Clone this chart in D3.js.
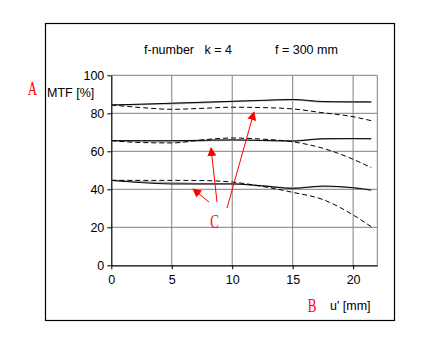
<!DOCTYPE html>
<html><head><meta charset="utf-8">
<script src="https://cdn.jsdelivr.net/npm/d3@7/dist/d3.min.js"></script>
<style>body{margin:0;background:#fff}svg{display:block}</style>
</head><body><svg id="c" width="428" height="348"></svg>
<script>
const xs = [0, 2.5, 5, 7.5, 10, 12.5, 15, 17.5, 20, 21.5];
const topSolidBlack = [84.4, 84.8, 85.3, 85.8, 86.3, 86.8, 87.3, 86.2, 86.0, 86.0];
const topSolidGray  = [84.2, 84.6, 85.1, 85.6, 86.2, 86.7, 87.0, 86.0, 85.9, 85.9];
const topDashed     = [84.4, 83.0, 82.1, 82.6, 83.2, 83.0, 82.3, 80.3, 78.2, 76.1];
const midSolidBlack = [65.6, 65.6, 65.6, 65.8, 66.0, 65.7, 65.4, 66.6, 66.7, 66.6];
const midSolidGray  = [65.5, 65.2, 65.0, 65.5, 65.9, 65.7, 65.5, 66.5, 66.6, 66.6];
const midDashed     = [65.6, 64.6, 64.4, 66.0, 67.0, 66.4, 65.0, 61.6, 55.8, 51.4];
const lowSolidBlack = [44.7, 43.5, 42.8, 42.8, 42.8, 41.8, 40.5, 41.7, 40.8, 39.6];
const lowSolidGray  = [44.7, 44.0, 43.4, 43.0, 42.9, 41.8, 40.6, 41.5, 40.8, 39.6];
const lowDashed     = [44.7, 44.7, 44.7, 44.6, 43.8, 41.5, 38.4, 34.6, 26.5, 20.3];
const xTicks = [0, 5, 10, 15, 20];
const yTicks = [0, 20, 40, 60, 80, 100];

const svg = d3.select("#c");
const L = 111.3, R = 377.3, T = 75.3, B = 265.3;
const x = d3.scaleLinear().domain([0, 22]).range([L, R]);
const y = d3.scaleLinear().domain([0, 100]).range([B, T]);
const sans = '"Liberation Sans",Arial,sans-serif';

// outer frame
svg.append("rect").attr("x", 45.5).attr("y", 23.5).attr("width", 349).attr("height", 297)
  .attr("fill", "none").attr("stroke", "#000").attr("stroke-width", 1.2);

// grid
const g = svg.append("g");
g.selectAll(".gx").data(xTicks.filter(d => d > 0)).join("line")
  .attr("x1", d => x(d)).attr("x2", d => x(d)).attr("y1", T).attr("y2", B)
  .attr("stroke", "#808080").attr("stroke-width", 1);
g.selectAll(".gy").data(yTicks.filter(d => d > 0)).join("line")
  .attr("x1", L).attr("x2", R).attr("y1", d => y(d)).attr("y2", d => y(d))
  .attr("stroke", "#808080").attr("stroke-width", 1);
g.append("line").attr("x1", R).attr("x2", R).attr("y1", T).attr("y2", B)
  .attr("stroke", "#808080");

// axes
const ax = svg.append("g").attr("transform", `translate(0,${B})`)
  .call(d3.axisBottom(x).tickValues(xTicks).tickSize(4).tickPadding(6).tickSizeOuter(0));
const ay = svg.append("g").attr("transform", `translate(${L},0)`)
  .call(d3.axisLeft(y).tickValues(yTicks).tickSize(4).tickPadding(3).tickSizeOuter(0));
[ax, ay].forEach(a => {
  a.select(".domain").attr("stroke", "#000").attr("stroke-width", 1.2);
  a.selectAll(".tick line").attr("stroke", "#000");
  a.selectAll("text").attr("font-size", 12.5).attr("fill", "#000").attr("font-family", sans);
});

// lines
const line = d3.line().x((d, i) => x(xs[i])).y(d => y(d)).curve(d3.curveMonotoneX);
const series = [
  [topSolidGray, "#a8a8a8", 1.6, null],
  [midSolidGray, "#a8a8a8", 1.6, null],
  [lowSolidGray, "#a8a8a8", 1.6, null],
  [topSolidBlack, "#000", 1, null],
  [midSolidBlack, "#000", 1, null],
  [lowSolidBlack, "#000", 1, null],
  [topDashed, "#000", 1, "5,3"],
  [midDashed, "#000", 1, "5,3"],
  [lowDashed, "#000", 1, "5,3"],
];
series.forEach(([d, c, w, da]) => {
  svg.append("path").attr("d", line(d)).attr("fill", "none")
    .attr("stroke", c).attr("stroke-width", w).attr("stroke-dasharray", da);
});

// texts
const txt = (s, tx, ty, o = {}) => svg.append("text").text(s).attr("x", tx).attr("y", ty)
  .attr("font-size", o.size || 12.5).attr("fill", o.fill || "#000")
  .attr("text-anchor", o.anchor || "start")
  .attr("font-family", o.family || sans);
txt("f-number\u00a0\u00a0\u00a0k = 4", 144, 54);
txt("f = 300 mm", 275, 54);
txt("MTF [%]", 47, 97);
txt("u' [mm]", 330, 310);
const serif = '"Liberation Serif","DejaVu Serif",serif';
const redLetter = (s, cx, by) => svg.append("text").text(s)
  .attr("transform", `translate(${cx},${by}) scale(0.72,1)`)
  .attr("text-anchor", "middle").attr("font-size", 18).attr("fill", "#f00")
  .attr("font-family", serif);
redLetter("A", 32.5, 95);
redLetter("B", 312, 312);
redLetter("C", 214.5, 228);

// red arrows
const defs = svg.append("defs");
defs.append("marker").attr("id", "ah").attr("viewBox", "0 0 10 10")
  .attr("refX", 9).attr("refY", 5).attr("markerWidth", 9).attr("markerHeight", 9)
  .attr("markerUnits", "userSpaceOnUse").attr("orient", "auto")
  .append("path").attr("d", "M0,0 L10,5 L0,10 Z").attr("fill", "#f00");
const arrows = [[217, 202, 211, 148], [227, 208, 254, 112], [209, 202, 193, 189]];
arrows.forEach(([x1, y1, x2, y2]) => {
  svg.append("line").attr("x1", x1).attr("y1", y1).attr("x2", x2).attr("y2", y2)
    .attr("stroke", "#f00").attr("stroke-width", 1).attr("marker-end", "url(#ah)");
});
</script></body></html>
